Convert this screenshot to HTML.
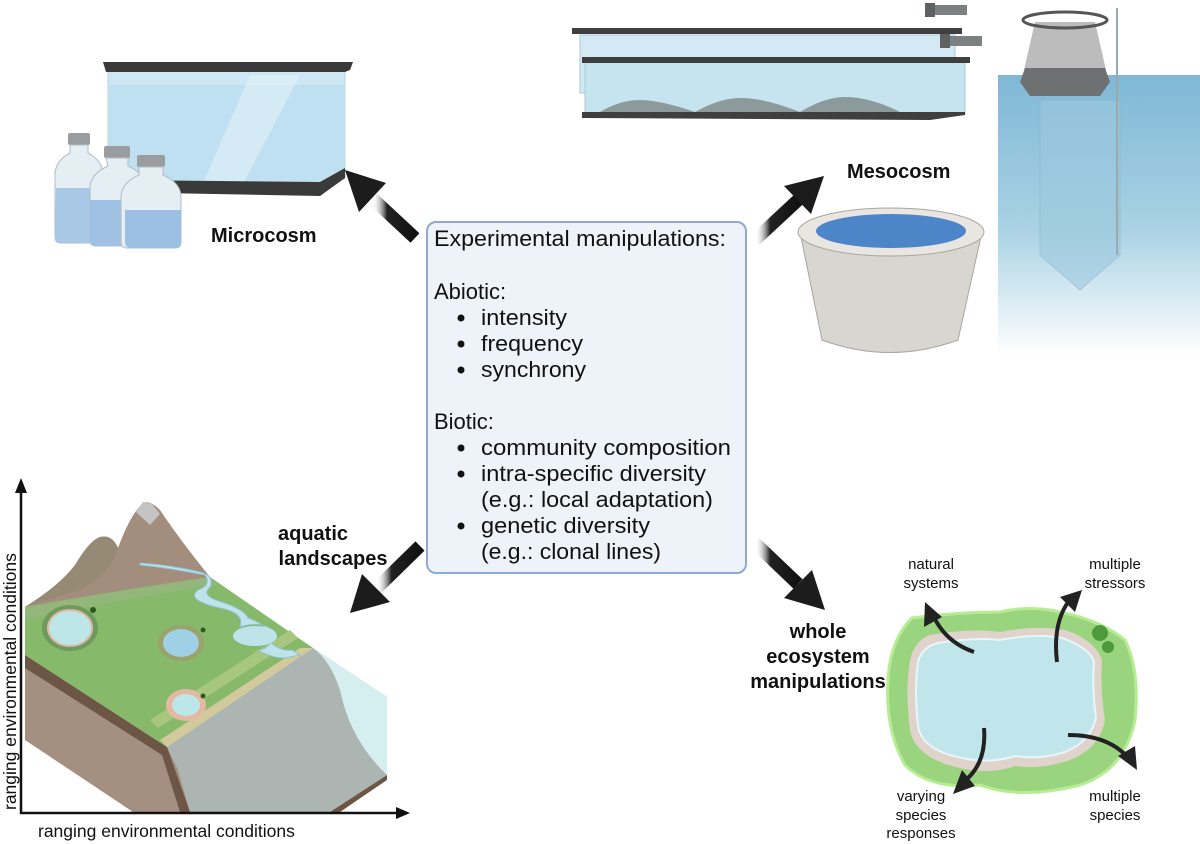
<!DOCTYPE html>
<html><head><meta charset="utf-8"><style>
html,body{margin:0;padding:0;background:#fff}
svg{display:block}
text{font-family:"Liberation Sans",Arial,sans-serif;fill:#111}
</style></head><body>
<svg width="1200" height="844" viewBox="0 0 1200 844" xmlns="http://www.w3.org/2000/svg">
<defs>
<linearGradient id="ag" x1="0" y1="0" x2="1" y2="0"><stop offset="0" stop-color="#fff" stop-opacity="0"/><stop offset="0.35" stop-color="#222"/><stop offset="1" stop-color="#111"/></linearGradient>
<linearGradient id="col" x1="0" y1="0" x2="0" y2="1"><stop offset="0" stop-color="#7fb8d6"/><stop offset="0.55" stop-color="#a9d2e4"/><stop offset="1" stop-color="#fff"/></linearGradient>
</defs>

<!-- Microcosm tank -->
<polygon points="108,70 345,70 345,178 320,192 108,192" fill="#cde8f4" stroke="#b8d4e2"/>
<polygon points="108,85 345,85 345,178 320,190 108,190" fill="#bfe0f0"/>
<polygon points="200,190 250,75 300,75 240,190" fill="#e2f1f8" opacity="0.6"/>
<polygon points="103,62 353,62 350,70 345,72 106,72" fill="#3a3a3a"/>
<polygon points="108,180 320,182 345,168 345,178 320,196 108,192" fill="#3a3a3a"/>
<!-- bottles -->
<g>
<rect x="68" y="133" width="22" height="12" rx="2" fill="#9a9d9f"/>
<path d="M70,145 h18 v8 q15,8 15,22 v62 q0,6 -6,6 h-36 q-6,0 -6,-6 v-62 q0,-14 15,-22z" fill="#e4eef3" stroke="#b0bec6"/>
<path d="M56,188 h47 v49 q0,6 -6,6 h-36 q-6,0 -6,-6z" fill="#a8c8e6"/>
<rect x="104" y="146" width="26" height="12" rx="2" fill="#9a9d9f"/>
<path d="M106,158 h22 v8 q18,8 18,22 v52 q0,6 -6,6 h-44 q-6,0 -6,-6 v-52 q0,-14 18,-22z" fill="#e4eef3" stroke="#b0bec6"/>
<path d="M90,200 h56 v40 q0,6 -6,6 h-44 q-6,0 -6,-6z" fill="#9fc2e4"/>
<rect x="137" y="155" width="28" height="12" rx="2" fill="#9a9d9f"/>
<path d="M139,167 h24 v8 q18,8 18,22 v45 q0,6 -6,6 h-48 q-6,0 -6,-6 v-45 q0,-14 18,-22z" fill="#e4eef3" stroke="#b0bec6"/>
<path d="M125,210 h56 v32 q0,6 -6,6 h-44 q-6,0 -6,-6z" fill="#9cc0e3"/>
</g>
<text x="211" y="242" font-size="20" font-weight="bold">Microcosm</text>

<!-- Mesocosm tanks -->
<rect x="580" y="35" width="375" height="58" fill="#d3eaf4" stroke="#a9c9d8"/>
<rect x="572" y="28" width="390" height="6" fill="#3f3f3f"/>
<rect x="585" y="62" width="380" height="52" fill="#c6e3f0" stroke="#a9c9d8"/>
<rect x="582" y="57" width="388" height="6" fill="#3f3f3f"/>
<path d="M600,112 q20,-12 40,-12 q20,0 55,12 q25,-14 45,-14 q25,0 60,14 q25,-15 45,-15 q25,0 55,15z" fill="#8c9a9c"/>
<polygon points="582,112 965,112 965,115 930,120 582,118" fill="#3f3f3f"/>
<rect x="925" y="3" width="10" height="14" fill="#5e6263"/><rect x="935" y="5" width="32" height="10" fill="#7d8081"/>
<rect x="940" y="34" width="10" height="14" fill="#5e6263"/><rect x="950" y="36" width="32" height="10" fill="#7d8081"/>
<!-- pot -->
<path d="M800,232 L822,340 Q890,365 958,340 L982,232 Z" fill="#d9d6d2" stroke="#a9a5a0"/>
<ellipse cx="891" cy="232" rx="93" ry="24" fill="#e9e6e2" stroke="#a9a5a0"/>
<ellipse cx="891" cy="231" rx="75" ry="17" fill="#4c86c8"/>
<text x="847" y="178" font-size="20" font-weight="bold">Mesocosm</text>
<!-- column -->
<rect x="998" y="75" width="202" height="280" fill="url(#col)"/>
<path d="M1040,100 L1040,255 L1080,290 L1120,255 L1120,100Z" fill="#9cc9de" opacity="0.6" stroke="#8bb5ca"/>
<line x1="1117" y1="8" x2="1117" y2="255" stroke="#9aa" stroke-width="2"/>
<polygon points="1035,22 1095,22 1106,70 1024,70" fill="#b0b0b0" opacity="0.85"/>
<ellipse cx="1065" cy="20" rx="42" ry="8" fill="none" stroke="#555" stroke-width="3"/>
<polygon points="1025,68 1105,68 1110,82 1100,96 1030,96 1020,82" fill="#6e7172"/>

<!-- central arrows -->
<g fill="#1c1c1c">
<line x1="415" y1="238" x2="372" y2="198" stroke="url(#ag)" stroke-width="13"/>
<polygon points="345,170 386,183 359,212"/>
<line x1="755" y1="240" x2="798" y2="200" stroke="url(#ag)" stroke-width="13"/>
<polygon points="824,176 784,186 811,214"/>
<line x1="420" y1="546" x2="376" y2="589" stroke="url(#ag)" stroke-width="13"/>
<polygon points="350,613 362,574 390,602"/>
<line x1="755" y1="543" x2="798" y2="584" stroke="url(#ag)" stroke-width="13"/>
<polygon points="825,610 784,598 812,570"/>
</g>

<!-- central box -->
<rect x="427" y="222" width="319" height="351" rx="9" fill="#eef3fa" stroke="#8ea9d2" stroke-width="2"/>
<g font-size="22">
<text x="434" y="246" textLength="292" lengthAdjust="spacingAndGlyphs">Experimental manipulations:</text>
<text x="434" y="299">Abiotic:</text>
<text x="481" y="325" textLength="86" lengthAdjust="spacingAndGlyphs">intensity</text>
<text x="481" y="351" textLength="102" lengthAdjust="spacingAndGlyphs">frequency</text>
<text x="481" y="377" textLength="105" lengthAdjust="spacingAndGlyphs">synchrony</text>
<text x="434" y="429">Biotic:</text>
<text x="481" y="455" textLength="250" lengthAdjust="spacingAndGlyphs">community composition</text>
<text x="481" y="481" textLength="225" lengthAdjust="spacingAndGlyphs">intra-specific diversity</text>
<text x="481" y="507" textLength="232" lengthAdjust="spacingAndGlyphs">(e.g.: local adaptation)</text>
<text x="481" y="533" textLength="169" lengthAdjust="spacingAndGlyphs">genetic diversity</text>
<text x="481" y="559" textLength="180" lengthAdjust="spacingAndGlyphs">(e.g.: clonal lines)</text>
</g>
<g fill="#111"><circle cx="461" cy="318" r="3.5"/><circle cx="461" cy="344" r="3.5"/><circle cx="461" cy="370" r="3.5"/><circle cx="461" cy="448" r="3.5"/><circle cx="461" cy="474" r="3.5"/><circle cx="461" cy="526" r="3.5"/></g>

<!-- landscape -->
<polygon points="25,655 25,740 133,812 190,812 178,760 167,747" fill="#a58f80"/>
<polygon points="25,655 167,747 190,812 180,812 162,755 25,668" fill="#6d5646"/>
<polygon points="167,747 313,648 387,697 387,775 330,812 190,812 178,770" fill="#acb5b2"/>
<path d="M313,648 L387,697 L387,775 Q350,740 340,690 Q330,660 313,648 Z" fill="#d5eeef"/>
<polygon points="330,812 387,775 387,780 340,812" fill="#6d5646"/>
<polygon points="25,607 100,560 210,577 313,648 167,747 25,655" fill="#86b96a"/>
<polygon points="160,740 300,648 313,648 167,747" fill="#d2c99c"/>
<polygon points="150,720 290,630 298,638 158,728" fill="#a7c67e"/>
<path d="M25,607 Q60,585 75,565 Q90,540 100,537 Q112,534 118,548 Q130,515 143,503 Q150,500 160,510 Q180,540 210,577 Q150,595 25,607Z" fill="#a38d7d"/>
<path d="M25,607 Q60,585 75,565 Q90,540 100,537 Q112,534 118,548 Q110,575 80,590Z" fill="#968a75"/>
<path d="M25,607 Q120,590 210,577 L220,584 Q120,600 25,620Z" fill="#93b77a"/>
<path d="M136,512 L143,502 L152,504 L160,514 L150,525 Z" fill="#c4c4c4"/>
<path d="M140,565 Q170,568 205,575 Q212,585 198,590 Q185,600 220,608 Q245,613 240,627 Q262,620 275,632 Q270,650 258,650 Q272,658 285,658 L300,655 L292,650 Q280,652 268,640 Q270,625 248,618 Q245,610 222,602 Q200,596 210,587 Q215,576 200,572 Q170,565 140,563Z" fill="#bfe3ea" stroke="#8ec3d3" stroke-width="1"/>
<ellipse cx="255" cy="636" rx="22" ry="10" fill="#bfe3ea"/>
<ellipse cx="70" cy="628" rx="28" ry="23" fill="#6f9a5e"/><ellipse cx="70" cy="628" rx="22" ry="18" fill="#bde6e9" stroke="#e0b8a5" stroke-width="2"/>
<ellipse cx="181" cy="643" rx="23" ry="18" fill="#9aa36a"/><ellipse cx="181" cy="643" rx="18" ry="14" fill="#9fd0e6"/>
<ellipse cx="186" cy="705" rx="20" ry="16" fill="#e4b9a3"/><ellipse cx="186" cy="705" rx="14" ry="11" fill="#bde6e9"/>
<circle cx="93" cy="610" r="3" fill="#2d5a22"/><circle cx="203" cy="630" r="2.5" fill="#2d5a22"/><circle cx="203" cy="696" r="2.5" fill="#2d5a22"/>
<text x="313" y="540" font-size="20" font-weight="bold" text-anchor="middle">aquatic</text>
<text x="333" y="565" font-size="20" font-weight="bold" text-anchor="middle">landscapes</text>
<line x1="21" y1="490" x2="21" y2="814" stroke="#111" stroke-width="2.5"/>
<polygon points="21,478 15,493 27,493" fill="#111"/>
<line x1="20" y1="813" x2="400" y2="813" stroke="#111" stroke-width="2.5"/>
<polygon points="410,813 396,807 396,819" fill="#111"/>
<text x="38" y="837" font-size="17.5">ranging environmental conditions</text>
<text transform="translate(16,810) rotate(-90)" font-size="17.5">ranging environmental conditions</text>

<!-- pond -->
<path d="M912,618 Q960,612 1000,612 Q1030,605 1060,612 Q1100,620 1125,640 Q1140,670 1135,720 Q1125,770 1080,785 Q1020,800 980,785 Q930,790 905,765 Q885,730 888,680 Q890,640 912,618Z" fill="#9bd47e" stroke="#b6ec92" stroke-width="3"/>
<path d="M930,635 Q970,628 1000,632 Q1035,625 1065,630 Q1095,640 1102,660 Q1100,690 1105,720 Q1100,748 1070,760 Q1040,770 1015,766 Q990,775 960,768 Q915,758 910,730 Q905,690 910,660 Q915,640 930,635Z" fill="#e0d3cc"/>
<path d="M938,643 Q975,637 1000,640 Q1035,633 1062,638 Q1090,648 1094,662 Q1092,690 1096,718 Q1090,742 1065,752 Q1040,760 1015,756 Q990,764 962,758 Q922,750 918,726 Q914,690 918,662 Q922,647 938,643Z" fill="#c0e6ec" stroke="#e8f6fa" stroke-width="2"/>
<circle cx="1100" cy="633" r="8" fill="#4d9a3c"/><circle cx="1108" cy="647" r="6" fill="#4d9a3c"/>
<g fill="none" stroke="#222" stroke-width="4">
<path d="M974,652 Q945,642 933,615"/>
<path d="M1057,662 Q1052,620 1072,597"/>
<path d="M984,728 Q987,765 962,783"/>
<path d="M1068,735 Q1110,735 1130,760"/>
</g>
<g fill="#222">
<polygon points="925,602 924,627 942,617"/>
<polygon points="1082,590 1060,597 1075,612"/>
<polygon points="953,794 962,770 975,786"/>
<polygon points="1137,770 1118,756 1135,746"/>
</g>
<g font-size="15" text-anchor="middle">
<text x="931" y="569">natural</text><text x="931" y="588">systems</text>
<text x="1115" y="569">multiple</text><text x="1115" y="588">stressors</text>
<text x="921" y="801">varying</text><text x="921" y="820">species</text><text x="921" y="838">responses</text>
<text x="1115" y="801">multiple</text><text x="1115" y="820">species</text>
</g>
<text x="818" y="638" font-size="20" font-weight="bold" text-anchor="middle">whole</text>
<text x="818" y="663" font-size="20" font-weight="bold" text-anchor="middle">ecosystem</text>
<text x="818" y="688" font-size="20" font-weight="bold" text-anchor="middle">manipulations</text>
</svg>
</body></html>
